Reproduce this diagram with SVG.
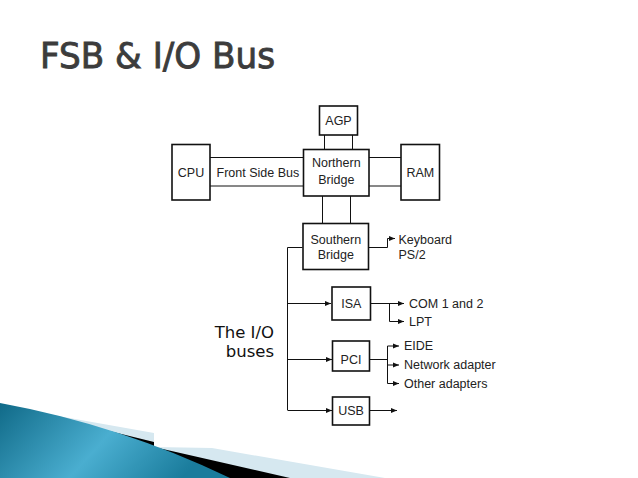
<svg xmlns="http://www.w3.org/2000/svg" width="638" height="478" viewBox="0 0 638 478">
<defs>
<style>
.box{fill:#fff;stroke:#111;stroke-width:1.6}
.ln{fill:none;stroke:#111;stroke-width:1}
.t{font-family:"Liberation Sans",Arial,sans-serif;font-size:12.5px;fill:#222}
.c{text-anchor:middle}
</style>
<marker id="ah" viewBox="0 0 6 6" refX="6" refY="3" markerWidth="6" markerHeight="6" markerUnits="userSpaceOnUse" orient="auto">
<path d="M0,0.5 L6,3 L0,5.5 Z" fill="#111"/>
</marker>
<linearGradient id="bg" x1="0" y1="0" x2="1" y2="0.3">
<stop offset="0" stop-color="#106a88"/>
<stop offset="0.55" stop-color="#4aaed0"/>
<stop offset="1" stop-color="#1a7c9c"/>
</linearGradient>
</defs>
<rect width="638" height="478" fill="#fff"/>
<g id="decor">
<polygon points="30,411 154,433 154,447 212,448 385,478 0,478" fill="#d6e8f0"/>
<polygon points="32,412 154,442 154,447 290,478 0,478" fill="#000"/>
<path d="M0,403 Q120,425 230,478 L0,478 Z" fill="url(#bg)"/>
</g>
<text id="title" x="40" y="68" font-family="'DejaVu Sans',Verdana,sans-serif" font-size="35" fill="#3c3c3c" stroke="#3c3c3c" stroke-width="0.9" textLength="235" lengthAdjust="spacingAndGlyphs">FSB &amp; I/O Bus</text>
<g id="connectors">
<line class="ln" x1="210" y1="157.5" x2="303" y2="157.5"/>
<line class="ln" x1="210" y1="186" x2="303" y2="186"/>
<line class="ln" x1="369" y1="157.5" x2="401" y2="157.5"/>
<line class="ln" x1="369" y1="186" x2="401" y2="186"/>
<line class="ln" x1="324.5" y1="135" x2="324.5" y2="149"/>
<line class="ln" x1="352.5" y1="135" x2="352.5" y2="149"/>
<line class="ln" x1="322.5" y1="196" x2="322.5" y2="223"/>
<line class="ln" x1="350.5" y1="196" x2="350.5" y2="223"/>
<path class="ln" d="M302.5,247.5 H287.5 V410"/>
<path class="ln" d="M287.5,303.5 H331" marker-end="url(#ah)"/>
<path class="ln" d="M287.5,359.5 H332" marker-end="url(#ah)"/>
<path class="ln" d="M287.5,410.5 H332" marker-end="url(#ah)"/>
<path class="ln" d="M368.5,247.5 H387.5 V238.5 H395" marker-end="url(#ah)"/>
<path class="ln" d="M370.5,303.5 H404" marker-end="url(#ah)"/>
<path class="ln" d="M389.5,303.5 V321.5 H404" marker-end="url(#ah)"/>
<path class="ln" d="M369.5,359.5 H387.5" />
<path class="ln" d="M387.5,346 H399" marker-end="url(#ah)"/>
<path class="ln" d="M387.5,346 V383.5 H399" marker-end="url(#ah)"/>
<path class="ln" d="M387.5,365 H399" marker-end="url(#ah)"/>
<path class="ln" d="M369.5,410.5 H397" marker-end="url(#ah)"/>
</g>
<g id="cpu"><rect class="box" x="172" y="144.5" width="38" height="55.5"/><text class="t c" x="191" y="176.5">CPU</text></g>
<text id="fsb" class="t" x="216.5" y="176.5">Front Side Bus</text>
<g id="agp"><rect class="box" x="319.5" y="106" width="38" height="29"/><text class="t c" x="338.5" y="125">AGP</text></g>
<g id="northern"><rect class="box" x="303.5" y="149.5" width="65.5" height="46.5"/><text class="t c" x="336.3" y="167">Northern</text><text class="t c" x="336.3" y="183.5">Bridge</text></g>
<g id="ram"><rect class="box" x="401" y="144.5" width="38.5" height="55.5"/><text class="t c" x="420.3" y="176.5">RAM</text></g>
<g id="southern"><rect class="box" x="303" y="223.5" width="65.5" height="46"/><text class="t c" x="335.8" y="243.5">Southern</text><text class="t c" x="335.8" y="258.5">Bridge</text></g>
<g id="keyboard"><text class="t" x="398.5" y="243.5">Keyboard</text><text class="t" x="398.5" y="258.5">PS/2</text></g>
<g id="isa"><rect class="box" x="332" y="287" width="38.5" height="33"/><text class="t c" x="351.3" y="307.5">ISA</text></g>
<text id="com" class="t" x="409" y="307.5">COM 1 and 2</text>
<text id="lpt" class="t" x="409" y="326">LPT</text>
<g id="pci"><rect class="box" x="332.5" y="341" width="37" height="30"/><text class="t c" x="351" y="364">PCI</text></g>
<text id="eide" class="t" x="404" y="350">EIDE</text>
<text id="net" class="t" x="404" y="369">Network adapter</text>
<text id="other" class="t" x="404" y="387.5">Other adapters</text>
<g id="usb"><rect class="box" x="332.5" y="397" width="37" height="28"/><text class="t c" x="351" y="415">USB</text></g>
<g id="iolabel" font-family="'DejaVu Sans',Verdana,sans-serif" font-size="16.5" fill="#111" text-anchor="end"><text x="274" y="338">The I/O</text><text x="274" y="357">buses</text></g>
</svg>
